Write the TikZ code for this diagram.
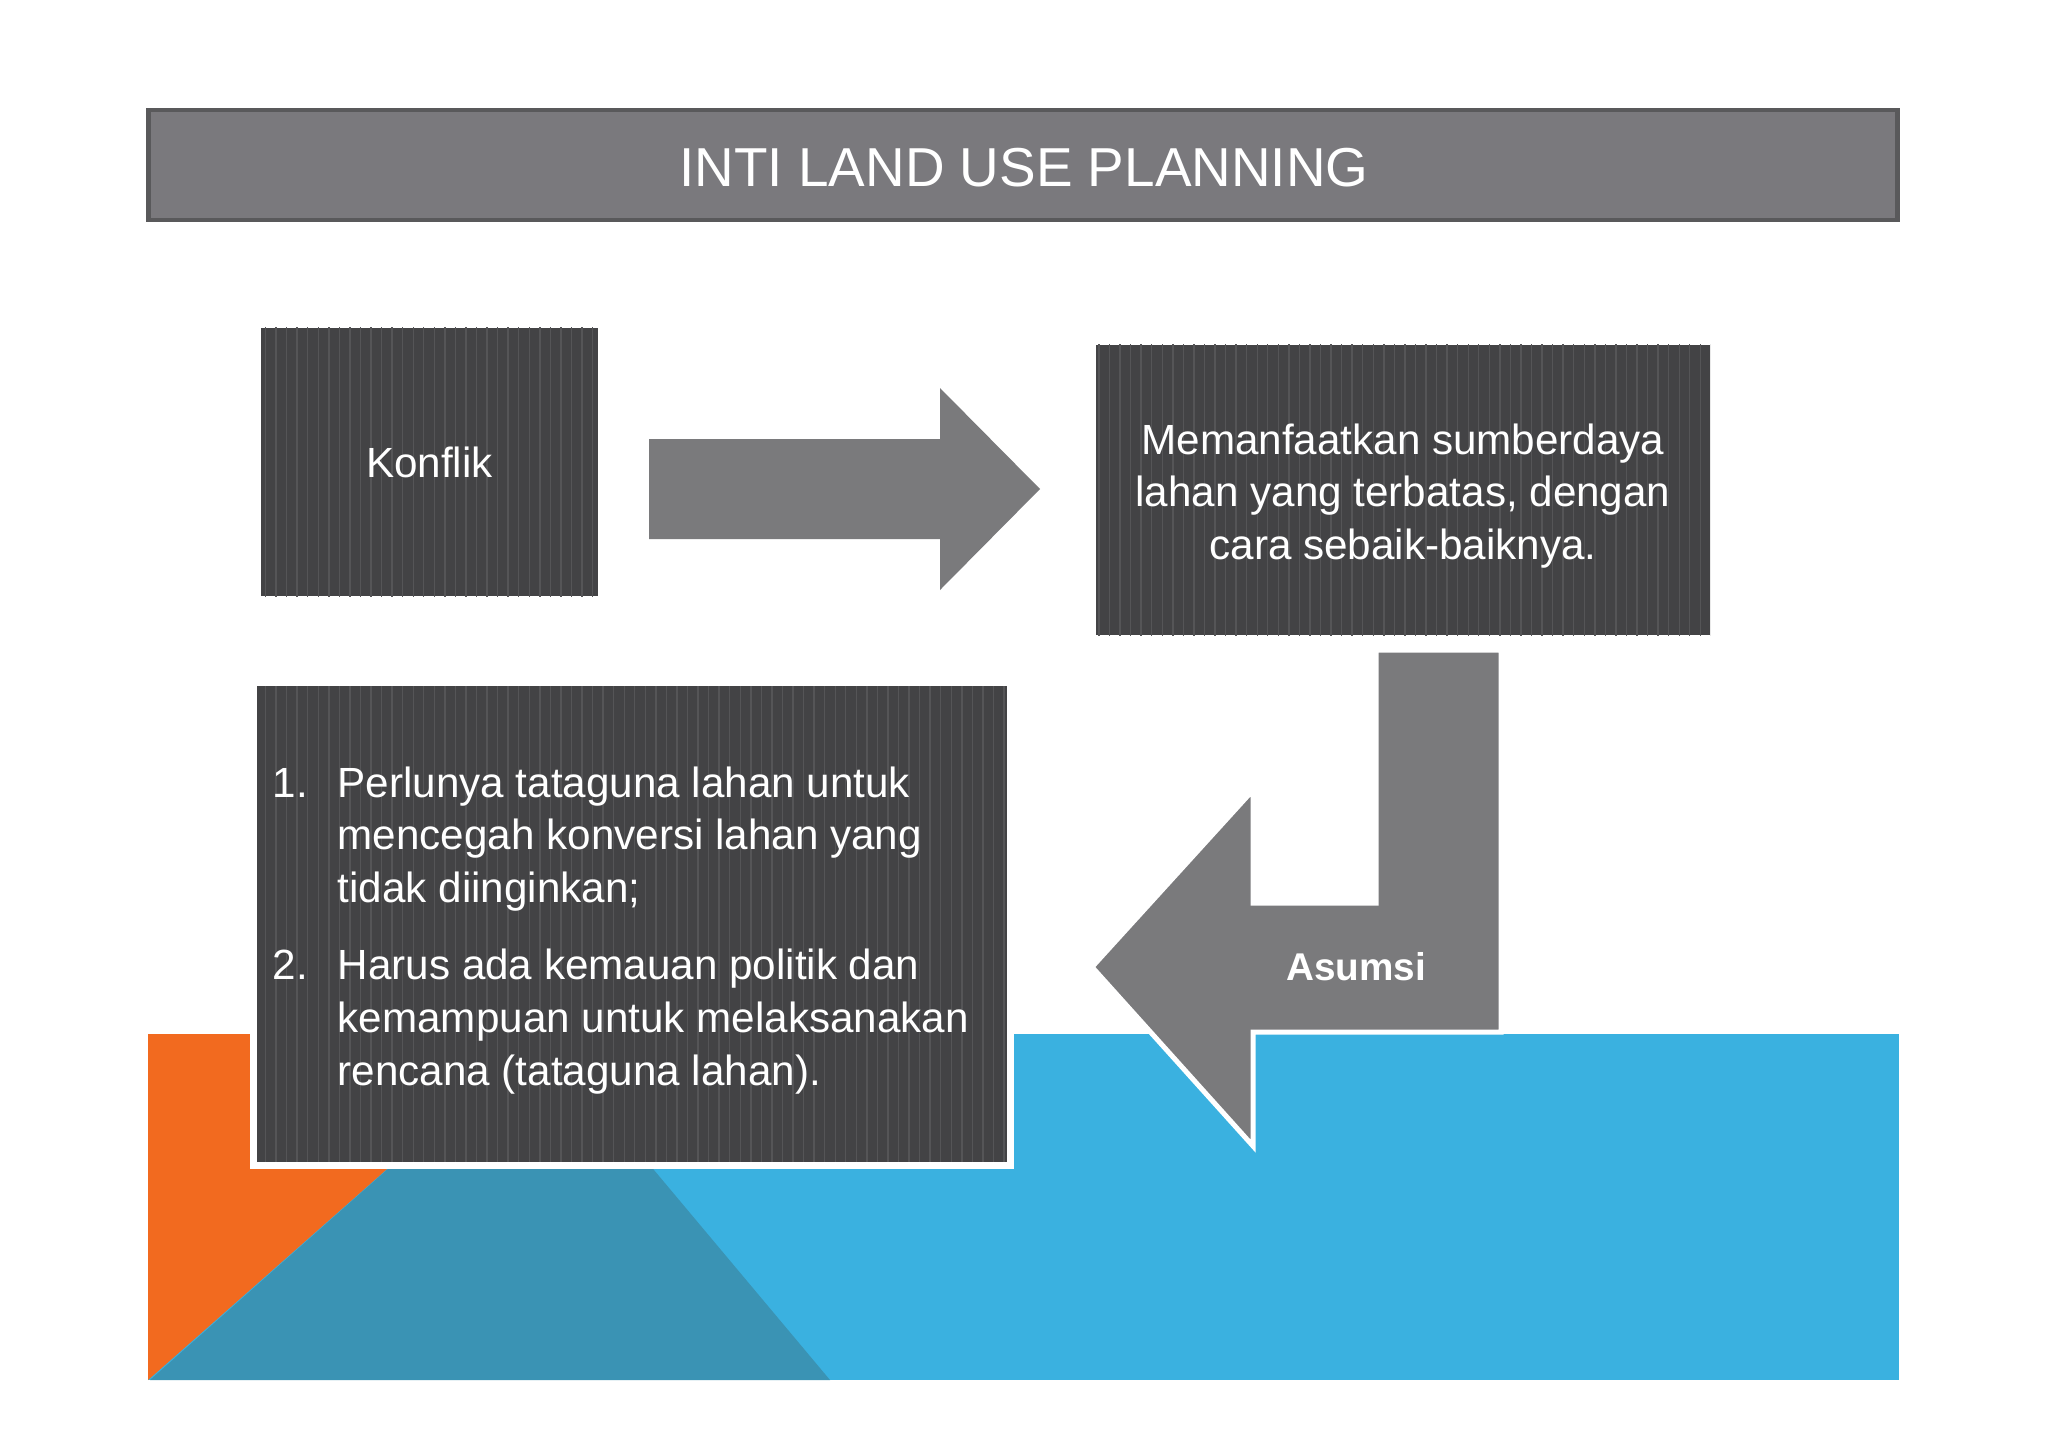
\documentclass[tikz,border=0pt]{standalone}
\usepackage{fontspec}
\setmainfont{Liberation Sans}
\usetikzlibrary{patterns}

\definecolor{barfill}{HTML}{7A797D}
\definecolor{barline}{HTML}{59595B}
\definecolor{boxfill}{HTML}{434345}
\definecolor{boxstripe}{HTML}{555557}
\definecolor{arrowgray}{HTML}{7A7A7C}
\definecolor{landblue}{HTML}{3AB1E0}
\definecolor{landteal}{HTML}{3A93B4}
\definecolor{landorange}{HTML}{F26A1F}

\begin{document}
\begin{tikzpicture}[x=0.01cm, y=-0.01cm,
    titlebar/.style={draw=barline, line width=1.2pt, fill=barfill, text=white,
      font=\fontsize{15.6}{19}\selectfont},
    darkbox/.style={preaction={fill=boxfill}, pattern=vertical lines,
      pattern color=boxstripe, text=white, inner sep=0pt,
      font=\fontsize{12}{15}\selectfont},
    blockarrow/.style={fill=arrowgray},
    bodytext/.style={text=white, inner sep=0pt, font=\fontsize{12}{15}\selectfont}]
  \useasboundingbox (0,0) rectangle (2048,1448);
  \fill[white] (0,0) rectangle (2048,1448);

  % land band at the bottom
  \fill[landblue] (148,1034) rectangle (1899,1380);
  \fill[landorange] (148,1034) -- (540,1034) -- (148,1380) -- cycle;
  \fill[landteal] (150,1380) -- (540,1034) -- (830,1380) -- cycle;

  \node[titlebar, minimum width=17.48cm, minimum height=1.10cm] (judul) at (1023,165) {};
  \node[text=white, font=\fontsize{15.6}{19}\selectfont] (judultext) at (1024,168) {INTI LAND USE PLANNING};

  \node[darkbox, minimum width=3.37cm, minimum height=2.68cm] (konflik) at (429.5,462) {Konflik};
  \node[darkbox, minimum width=6.14cm, minimum height=2.90cm] (manfaat) at (1403,490) {};
  \node[bodytext, align=center] (manfaattext) at (1403,496)
    {Memanfaatkan sumberdaya\\ lahan yang terbatas, dengan\\ cara sebaik-baiknya.};
  \node[darkbox, draw=white, line width=0.07cm, minimum width=7.57cm, minimum height=4.83cm] (syarat) at (632,924) {};

  \node[bodytext, anchor=base west] (daftar) at (272,797)
    {\begin{tabular}[t]{@{}p{0.65cm}@{}l@{}}
      1. & Perlunya tataguna lahan untuk\\
         & mencegah konversi lahan yang\\
         & tidak diinginkan;\\[7pt]
      2. & Harus ada kemauan politik dan\\
         & kemampuan untuk melaksanakan\\
         & rencana (tataguna lahan).
    \end{tabular}};

  % arrows
  \fill[blockarrow] (649,439) -- (940,439) -- (940,388) -- (1040,489) -- (940,590) -- (940,539) -- (649,539) -- cycle;
  \filldraw[blockarrow, draw=white, line width=0.05cm, line join=miter]
    (1376,650) -- (1501,650) -- (1501,1032) -- (1253,1032) -- (1253,1146)
    -- (1092,967) -- (1253,790) -- (1253,903) -- (1376,903) -- cycle;
  \node[text=white, font=\bfseries\fontsize{11}{13}\selectfont] (asumsi) at (1356,967) {Asumsi};
\end{tikzpicture}
\end{document}
